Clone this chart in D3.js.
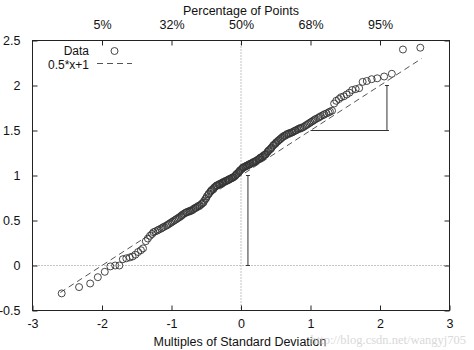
<!DOCTYPE html>
<html>
<head>
<meta charset="utf-8">
<script src="https://cdn.jsdelivr.net/npm/d3@7"></script>
<style>
  html, body { margin: 0; padding: 0; background: #fff; }
  svg { display: block; font-family: "Liberation Sans", Arial, Helvetica, sans-serif; }
</style>
</head>
<body>
<div id="chart"></div>
<script>
// ---- data ----
const xQuantiles = [
  -2.58,-2.33,-2.17,-2.06,-1.96,-1.88,-1.81,-1.75,-1.70,-1.65,
  -1.60,-1.56,-1.52,-1.48,-1.44,-1.41,-1.37,-1.34,-1.31,-1.28,
  -1.26,-1.23,-1.20,-1.18,-1.15,-1.13,-1.11,-1.08,-1.06,-1.04,
  -1.02,-1.00,-0.98,-0.96,-0.94,-0.92,-0.90,-0.88,-0.86,-0.85,
  -0.83,-0.81,-0.79,-0.78,-0.76,-0.74,-0.73,-0.71,-0.69,-0.68,
  -0.66,-0.65,-0.63,-0.62,-0.60,-0.59,-0.57,-0.56,-0.54,-0.53,
  -0.51,-0.50,-0.49,-0.47,-0.46,-0.44,-0.43,-0.42,-0.40,-0.39,
  -0.38,-0.36,-0.35,-0.34,-0.32,-0.31,-0.30,-0.28,-0.27,-0.26,
  -0.25,-0.23,-0.22,-0.21,-0.19,-0.18,-0.17,-0.16,-0.14,-0.13,
  -0.12,-0.11,-0.09,-0.08,-0.07,-0.06,-0.04,-0.03,-0.02,-0.01,
  0.01,0.02,0.03,0.04,0.06,0.07,0.08,0.09,0.11,0.12,
  0.13,0.14,0.16,0.17,0.18,0.19,0.21,0.22,0.23,0.25,
  0.26,0.27,0.28,0.30,0.31,0.32,0.34,0.35,0.36,0.38,
  0.39,0.40,0.42,0.43,0.44,0.46,0.47,0.49,0.50,0.51,
  0.53,0.54,0.56,0.57,0.59,0.60,0.62,0.63,0.65,0.66,
  0.68,0.69,0.71,0.73,0.74,0.76,0.78,0.79,0.81,0.83,
  0.85,0.86,0.88,0.90,0.92,0.94,0.96,0.98,1.00,1.02,
  1.04,1.06,1.08,1.11,1.13,1.15,1.18,1.20,1.23,1.26,
  1.28,1.31,1.34,1.37,1.41,1.44,1.48,1.52,1.56,1.60,
  1.65,1.70,1.75,1.81,1.88,1.96,2.06,2.17,2.33,2.58
];
const yValues = [
  -0.31,-0.24,-0.20,-0.13,-0.07,-0.01,0.00,0.00,0.07,0.08,
  0.09,0.10,0.12,0.15,0.17,0.19,0.27,0.30,0.33,0.35,
  0.37,0.38,0.39,0.40,0.41,0.42,0.43,0.44,0.45,0.46,
  0.47,0.48,0.49,0.50,0.51,0.52,0.53,0.54,0.55,0.56,
  0.57,0.58,0.59,0.59,0.60,0.60,0.61,0.61,0.62,0.63,
  0.64,0.64,0.65,0.66,0.66,0.67,0.68,0.69,0.70,0.72,
  0.74,0.75,0.77,0.79,0.80,0.82,0.83,0.84,0.85,0.86,
  0.87,0.88,0.89,0.89,0.90,0.90,0.91,0.91,0.92,0.92,
  0.93,0.93,0.94,0.94,0.95,0.95,0.96,0.96,0.97,0.97,
  0.98,0.98,0.99,1.00,1.01,1.02,1.03,1.04,1.05,1.06,
  1.07,1.08,1.09,1.09,1.10,1.10,1.11,1.11,1.12,1.12,
  1.13,1.13,1.14,1.14,1.15,1.15,1.16,1.16,1.17,1.18,
  1.18,1.19,1.20,1.20,1.21,1.22,1.23,1.23,1.24,1.26,
  1.27,1.28,1.29,1.30,1.31,1.33,1.34,1.35,1.36,1.37,
  1.38,1.39,1.40,1.41,1.42,1.43,1.44,1.44,1.45,1.46,
  1.46,1.47,1.47,1.48,1.48,1.49,1.50,1.50,1.51,1.52,
  1.52,1.53,1.53,1.54,1.55,1.56,1.57,1.58,1.59,1.60,
  1.61,1.62,1.63,1.64,1.65,1.66,1.67,1.68,1.69,1.70,
  1.71,1.72,1.80,1.83,1.85,1.87,1.88,1.90,1.92,1.95,
  1.96,1.97,2.04,2.05,2.07,2.08,2.10,2.13,2.40,2.42
];
const xTicks = [-3, -2, -1, 0, 1, 2, 3];
const yTicks = [-0.5, 0, 0.5, 1, 1.5, 2, 2.5];
const topTickPos = [-2, -1, 0, 1, 2];
const topTickLabels = ["5%", "32%", "50%", "68%", "95%"];
const fitSlope = 0.5, fitIntercept = 1;
const fitRange = [-2.6, 2.6];
// slope-triangle annotation segments [x1, y1, x2, y2, capped]
const annoSegments = [
  [0.1, 0, 0.1, 1, true],
  [1.0, 1.5, 2.1, 1.5, false],
  [2.1, 1.5, 2.1, 2.0, true]
];

// ---- layout ----
const W = 474, H = 350;
const m = { left: 32.5, right: 24.5, top: 40.5, bottom: 39.5 };
const iw = W - m.left - m.right, ih = H - m.top - m.bottom;

const svg = d3.select("#chart").append("svg").attr("width", W).attr("height", H);
const g = svg.append("g").attr("transform", `translate(${m.left},${m.top})`);

const x = d3.scaleLinear().domain([-3, 3]).range([0, iw]);
const y = d3.scaleLinear().domain([-0.5, 2.5]).range([ih, 0]);

const fmt = d => String(d);
const axisColor = "#222";

// dotted reference lines
g.append("line").attr("x1", x(0)).attr("x2", x(0)).attr("y1", 0).attr("y2", ih)
  .attr("stroke", "#888").attr("stroke-width", 1).attr("stroke-dasharray", "1,2");
g.append("line").attr("x1", 0).attr("x2", iw).attr("y1", y(0)).attr("y2", y(0))
  .attr("stroke", "#888").attr("stroke-width", 1).attr("stroke-dasharray", "1,2");

// axes (ticks inward)
function styleAxis(sel) {
  sel.select(".domain").remove();
  sel.selectAll(".tick line").attr("stroke", axisColor);
  sel.selectAll(".tick text").attr("fill", "#111").style("font-size", "12.5px");
}
g.append("g").attr("transform", `translate(0,${ih})`)
  .call(d3.axisBottom(x).tickValues(xTicks).tickFormat(fmt).tickSizeInner(-5).tickSizeOuter(0).tickPadding(9))
  .call(styleAxis);
g.append("g")
  .call(d3.axisLeft(y).tickValues(yTicks).tickFormat(fmt).tickSizeInner(-5).tickSizeOuter(0).tickPadding(12))
  .call(styleAxis);
g.append("g").attr("transform", `translate(${iw},0)`)
  .call(d3.axisRight(y).tickValues(yTicks).tickFormat("").tickSizeInner(-5).tickSizeOuter(0))
  .call(styleAxis);
g.append("g")
  .call(d3.axisTop(x).tickValues(topTickPos).tickFormat((d, i) => topTickLabels[i]).tickSizeInner(-5).tickSizeOuter(0).tickPadding(12))
  .call(styleAxis);

// frame
g.append("rect").attr("x", 0).attr("y", 0).attr("width", iw).attr("height", ih)
  .attr("fill", "none").attr("stroke", axisColor).attr("stroke-width", 1);

// fit line
g.append("line")
  .attr("x1", x(fitRange[0])).attr("y1", y(fitSlope * fitRange[0] + fitIntercept))
  .attr("x2", x(fitRange[1])).attr("y2", y(fitSlope * fitRange[1] + fitIntercept))
  .attr("stroke", "#555").attr("stroke-width", 1).attr("stroke-dasharray", "6,4");

// annotation segments
annoSegments.forEach(s => {
  g.append("line").attr("x1", x(s[0])).attr("y1", y(s[1])).attr("x2", x(s[2])).attr("y2", y(s[3]))
    .attr("stroke", "#333").attr("stroke-width", 1);
  if (s[4]) {
    [[s[0], s[1]], [s[2], s[3]]].forEach(p => {
      g.append("line").attr("x1", x(p[0]) - 2).attr("x2", x(p[0]) + 2)
        .attr("y1", y(p[1])).attr("y2", y(p[1])).attr("stroke", "#333").attr("stroke-width", 1);
    });
  }
});

// data points
const pts = xQuantiles.map((d, i) => [d, yValues[i]]);
g.append("g").selectAll("circle").data(pts).join("circle")
  .attr("cx", d => x(d[0])).attr("cy", d => y(d[1])).attr("r", 3.5)
  .attr("fill", "none").attr("stroke", "#333").attr("stroke-width", 0.9);

// legend
const leg = svg.append("g").style("font-size", "12px");
leg.append("text").attr("x", 89).attr("y", 50.5).attr("dy", "0.35em").attr("text-anchor", "end").attr("fill", "#111").text("Data");
leg.append("circle").attr("cx", 114.5).attr("cy", 51).attr("r", 3.5).attr("fill", "none").attr("stroke", "#333").attr("stroke-width", 0.9);
leg.append("text").attr("x", 89).attr("y", 64.5).attr("dy", "0.35em").attr("text-anchor", "end").attr("fill", "#111").text("0.5*x+1");
leg.append("line").attr("x1", 97).attr("x2", 132).attr("y1", 63.5).attr("y2", 63.5)
  .attr("stroke", "#555").attr("stroke-width", 1).attr("stroke-dasharray", "6,4");

// titles
svg.append("text").attr("x", 241).attr("y", 14.5).attr("text-anchor", "middle")
  .style("font-size", "12.5px").attr("fill", "#111").text("Percentage of Points");
svg.append("text").attr("x", 240).attr("y", 346).attr("text-anchor", "middle")
  .style("font-size", "12.5px").attr("fill", "#111").text("Multiples of Standard Deviation");

// watermark
svg.append("text").attr("x", 466).attr("y", 344).attr("text-anchor", "end")
  .style("font-family", "'Liberation Serif', 'DejaVu Serif', serif").style("font-size", "12.5px")
  .attr("fill", "#d0d0d0").attr("opacity", 0.8).text("http://blog.csdn.net/wangyj705");
</script>
</body>
</html>
